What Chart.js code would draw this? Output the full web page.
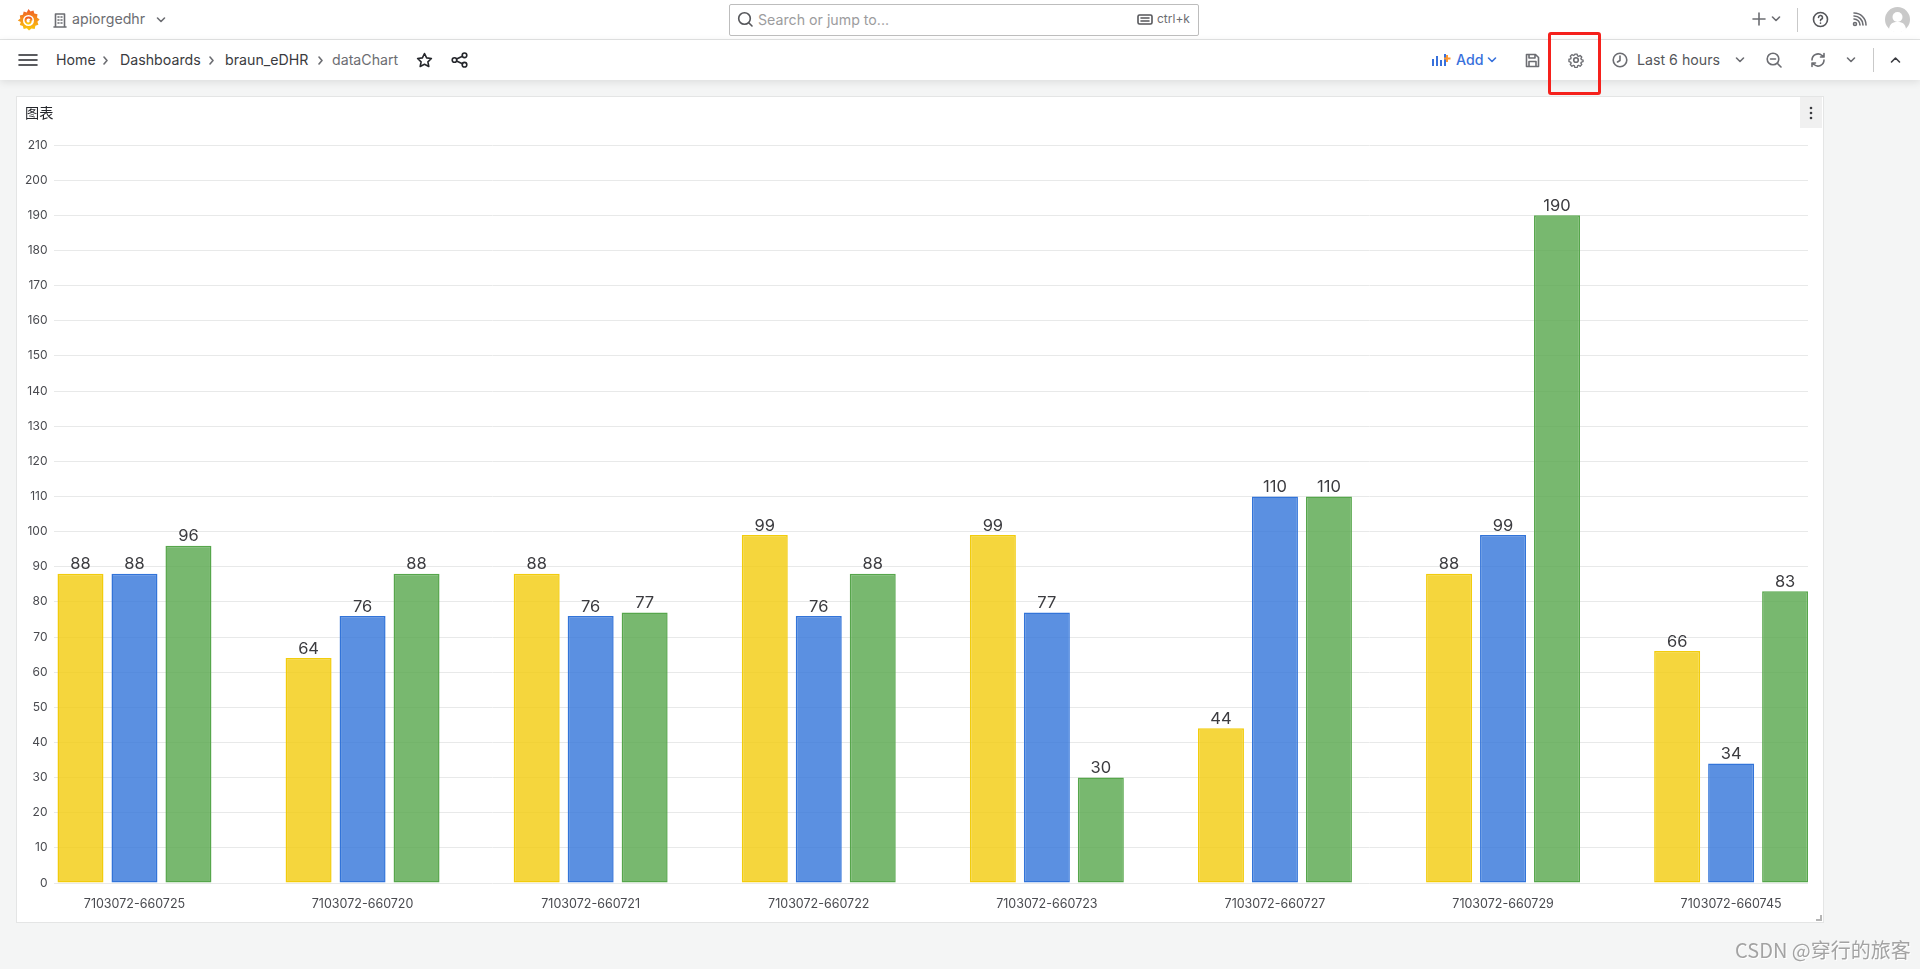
<!DOCTYPE html>
<html>
<head>
<meta charset="utf-8">
<title>dataChart</title>
<script src="https://cdn.jsdelivr.net/npm/chart.js@4.4.1/dist/chart.umd.min.js"></script>
<style>
    html, body { margin: 0; padding: 0; width: 1920px; height: 969px; overflow: hidden; background: #f4f5f5; font-family: Inter, sans-serif; }
    .abs { position: absolute; }
    .bar { position: absolute; left: 0; width: 1920px; background: #fff; }
    .txt { position: absolute; font-size: 14.2px; line-height: 20px; white-space: nowrap; color: #3a3b40; }
    .ico { position: absolute; fill: none; stroke: #3a3b40; stroke-width: 1.6; stroke-linecap: round; stroke-linejoin: round; }
    .gray { stroke: #6c6d72; }
    #panel { position: absolute; left: 16px; top: 96px; width: 1806px; height: 825px; background: #fff; border: 1px solid #e4e5e5; }
    #chart { position: absolute; left: 16px; top: 96px; }
    #redbox { position: absolute; left: 1548px; top: 32px; width: 47px; height: 57px; border: 3px solid #f5211c; border-radius: 3px; }
</style>
</head>
<body>
<div class="bar" style="top:0;height:39px;border-bottom:1px solid #e4e5e5"></div>
<div class="bar" style="top:40px;height:40px;box-shadow:0 2px 8px rgba(0,0,0,.1)"></div>

<!-- logo -->
<svg class="abs" style="left:17px;top:8px" width="23" height="24" viewBox="0 0 23 24">
    <defs><linearGradient id="lg" x1="0" y1="1" x2="0" y2="0"><stop offset="0" stop-color="#fbca0a"/><stop offset="1" stop-color="#f05a28"/></linearGradient></defs>
    <path d="M11.5 1l2 2.6 3-1 .8 3 3.2.6-.5 3.2 2.6 2-2.2 2.4 1 3-3 .9-.7 3.200-3.200-.5-2.500 2-2.200-2.200-3.100.8-.9-3.100-3-.9 1-3L.8 12.600l2.500-2-.5-3.200 3.100-.7.8-3.100 3 1z" fill="url(#lg)"/>
    <circle cx="11.500" cy="12.500" r="5.500" fill="#fff"/>
    <path d="M14.500 12.500a3 3 0 1 0-3 3 2.200 2.200 0 0 0 1.500-3.800" fill="none" stroke="url(#lg)" stroke-width="2"/>
</svg>
<svg class="ico gray" style="left:53px;top:13px" width="14" height="15" viewBox="0 0 14 15" stroke-width="1.200"><path d="M1 14h12M2.500 14V1h9v13M5 4h1M8 4h1M5 7h1M8 7h1M5 10h1M8 10h1"/></svg>
<div class="txt" style="left:72px;top:9px;color:#6c6d72">apiorgedhr</div>
<svg class="ico gray" style="left:156px;top:16px" width="10" height="8" viewBox="0 0 10 8"><path d="M1.500 2l3.500 3.500L8.500 2"/></svg>

<!-- search -->
<div class="abs" style="left:729px;top:4px;width:468px;height:30px;border:1px solid #bdbdbd;border-radius:2px;background:#fff"></div>
<svg class="ico" style="left:737px;top:11px;stroke:#55565a" width="17" height="17" viewBox="0 0 17 17"><circle cx="7.500" cy="7.500" r="5.800"/><path d="M12 12l3 3"/></svg>
<div class="txt" style="left:758px;top:10px;color:#9c9c9e">Search or jump to...</div>
<svg class="ico" style="left:1137px;top:14px;stroke:#55565a" width="16" height="11" viewBox="0 0 16 11"><rect x="1" y="1" width="14" height="9" rx="1.500"/><path d="M4 4h8M4 7h8"/></svg>
<div class="txt" style="left:1157px;top:9px;font-size:12px;color:#6c6d72">ctrl+k</div>

<!-- top right -->
<svg class="ico gray" style="left:1752px;top:12px" width="14" height="14" viewBox="0 0 14 14" stroke-width="1.800"><path d="M7 1v12M1 7h12"/></svg>
<svg class="ico gray" style="left:1771px;top:15px" width="10" height="8" viewBox="0 0 10 8"><path d="M1.500 2l3.500 3.500L8.500 2"/></svg>
<div class="abs" style="left:1797px;top:8px;width:1px;height:24px;background:#c9c9c9"></div>
<svg class="ico" style="left:1812px;top:11px;stroke:#55565a" width="17" height="17" viewBox="0 0 17 17" stroke-width="1.400"><circle cx="8.500" cy="8.500" r="7"/><path d="M6.500 6.500a2 2 0 1 1 2.800 1.800c-.6.300-.8.700-.8 1.300M8.500 12v.2"/></svg>
<svg class="ico gray" style="left:1852px;top:12px" width="15" height="15" viewBox="0 0 15 15" stroke-width="1.200"><circle cx="3" cy="12" r="1.500"/><path d="M2 7a6 6 0 0 1 6 6M2 4a9 9 0 0 1 9 9M2 1a12 12 0 0 1 12 12"/></svg>
<svg class="abs" style="left:1885px;top:7px" width="25" height="25" viewBox="0 0 25 25"><circle cx="12.500" cy="12.500" r="12.500" fill="#c9c9c9"/><circle cx="12.500" cy="10" r="5" fill="#fff"/><path d="M4 22c1-6 4-7 8.500-7s7.500 1 8.500 7a12.500 12.500 0 0 1-17 0z" fill="#fff"/></svg>

<!-- breadcrumb row -->
<svg class="ico" style="left:18px;top:53px;stroke:#24262b" width="20" height="14" viewBox="0 0 20 14" stroke-width="2"><path d="M1 2h18M1 7h18M1 12h18"/></svg>
<div class="txt" style="left:56px;top:50px">Home</div>
<svg class="ico gray" style="left:102px;top:56px" width="7" height="9" viewBox="0 0 7 9" stroke-width="1.300"><path d="M2 1l3 3.500L2 8"/></svg>
<div class="txt" style="left:120px;top:50px">Dashboards</div>
<svg class="ico gray" style="left:208px;top:56px" width="7" height="9" viewBox="0 0 7 9" stroke-width="1.300"><path d="M2 1l3 3.500L2 8"/></svg>
<div class="txt" style="left:225px;top:50px">braun_eDHR</div>
<svg class="ico gray" style="left:317px;top:56px" width="7" height="9" viewBox="0 0 7 9" stroke-width="1.300"><path d="M2 1l3 3.500L2 8"/></svg>
<div class="txt" style="left:332px;top:50px;color:#6c6d72">dataChart</div>
<svg class="ico" style="left:416px;top:52px;stroke:#24262b" width="17" height="16" viewBox="0 0 17 16"><path d="M8.500 1.500l2.100 4.400 4.800.6-3.500 3.300.9 4.700-4.300-2.300-4.300 2.300.9-4.700L1.600 6.500l4.800-.6z"/></svg>
<svg class="ico" style="left:451px;top:52px;stroke:#24262b" width="17" height="16" viewBox="0 0 17 16"><circle cx="3.500" cy="8" r="2.300"/><circle cx="13.500" cy="3.300" r="2.300"/><circle cx="13.500" cy="12.700" r="2.300"/><path d="M5.500 7l6-2.800M5.500 9l6 2.800"/></svg>

<svg class="abs" style="left:1431px;top:53px" width="20" height="14" viewBox="0 0 20 14"><path d="M1 6h2v7H1zM5 3h2v10H5zM9 7h2v6H9zM13 1h2v12h-2z" fill="#3871dc"/><path d="M16 2v7M13 5.500h6.500" stroke="#ff9830" stroke-width="2"/></svg>
<div class="txt" style="left:1456px;top:50px;color:#3871dc;font-weight:500">Add</div>
<svg class="ico" style="left:1487px;top:56px;stroke:#3871dc" width="10" height="8" viewBox="0 0 10 8"><path d="M1.500 2l3.500 3.500L8.500 2"/></svg>
<svg class="ico gray" style="left:1525px;top:53px" width="15" height="15" viewBox="0 0 15 15" stroke-width="1.400"><path d="M1.500 1.500h9l3 3v9h-12zM4 1.500v3.500h6v-3.500M4 13.500v-5h7v5"/></svg>
<svg class="ico gray" style="left:1568px;top:52px" width="16" height="16" viewBox="0 0 16 16" stroke-width="1.200"><circle cx="8" cy="8" r="2.300"/><path d="M6.700 1h2.600l.5 2 1.300.6 1.800-1 1.900 1.900-1 1.800.6 1.300 2 .5v1.800l-2 .5-.6 1.300 1 1.800-1.900 1.900-1.800-1-1.300.6-.5 2H6.700l-.5-2-1.300-.6-1.800 1-1.900-1.900 1-1.800-.6-1.300-2-.5V7.100l2-.5.600-1.300-1-1.800 1.900-1.900 1.800 1 1.300-.6z" transform="translate(1.300 1.300) scale(.84)"/></svg>
<svg class="ico gray" style="left:1612px;top:52px" width="16" height="16" viewBox="0 0 16 16" stroke-width="1.400"><circle cx="8" cy="8" r="6.800"/><path d="M8 4v4.500L5.500 10"/></svg>
<div class="txt" style="left:1637px;top:50px;color:#55565a">Last 6 hours</div>
<svg class="ico gray" style="left:1735px;top:56px" width="10" height="8" viewBox="0 0 10 8"><path d="M1.500 2l3.500 3.500L8.500 2"/></svg>
<svg class="ico gray" style="left:1766px;top:52px" width="16" height="16" viewBox="0 0 16 16" stroke-width="1.400"><circle cx="7" cy="7" r="5.800"/><path d="M4.500 7h5M11.500 11.500l3.500 3.500"/></svg>
<svg class="ico gray" style="left:1810px;top:52px" width="16" height="16" viewBox="0 0 16 16" stroke-width="1.400"><path d="M2 8a6 6 0 0 1 10-4.500L14 5M14 8a6 6 0 0 1-10 4.500L2 11M14 1.500V5h-3.500M2 14.500V11h3.500"/></svg>
<svg class="ico gray" style="left:1846px;top:56px" width="10" height="8" viewBox="0 0 10 8"><path d="M1.500 2l3.500 3.500L8.500 2"/></svg>
<div class="abs" style="left:1873px;top:48px;width:1px;height:24px;background:#c9c9c9"></div>
<svg class="ico" style="left:1890px;top:56px;stroke:#3a3b40" width="11" height="8" viewBox="0 0 11 8" stroke-width="1.800"><path d="M1.500 6l4-4 4 4"/></svg>

<div id="redbox"></div>

<!-- panel -->
<div id="panel"></div>
<canvas id="chart" width="1808" height="827"></canvas>
<div class="txt" style="left:25px;top:102px;font-family:'Noto Sans CJK SC';color:#24262b">图表</div>
<div class="abs" style="left:1800px;top:97px;width:22px;height:31px;background:#f0f0f0"></div>
<svg class="abs" style="left:1809px;top:106px" width="4" height="14" viewBox="0 0 4 14"><circle cx="2" cy="2" r="1.300" fill="#3a3b40"/><circle cx="2" cy="7" r="1.300" fill="#3a3b40"/><circle cx="2" cy="12" r="1.300" fill="#3a3b40"/></svg>
<svg class="abs" style="left:1816px;top:915px" width="6" height="6" viewBox="0 0 6 6"><path d="M0 4h4V0h2v6H0z" fill="#b5b5b5"/></svg>
<div class="txt" style="left:1735px;top:937px;font-family:'Noto Sans CJK SC';font-size:20px;line-height:26px;color:#a3a3a3;text-shadow:1px 1px 0 #fff">CSDN @穿行的旅客</div>

<script>
const categories = ['7103072-660725', '7103072-660720', '7103072-660721', '7103072-660722', '7103072-660723', '7103072-660727', '7103072-660729', '7103072-660745'];
const yellowValues = [88, 64, 88, 99, 99, 44, 88, 66];
const blueValues = [88, 76, 76, 76, 77, 110, 99, 34];
const greenValues = [96, 88, 77, 88, 30, 110, 190, 83];

// x is a linear axis so the groups can sit off-centre like in the panel
const toPoints = (values) => values.map((v, i) => ({ x: i, y: v }));

const barLabels = {
    id: 'barLabels',
    afterDatasetsDraw(chart) {
        const ctx = chart.ctx;
        ctx.save();
        ctx.font = '16.5px Inter';
        ctx.fillStyle = '#3c3c40';
        ctx.textAlign = 'center';
        ctx.textBaseline = 'bottom';
        chart.data.datasets.forEach((ds, d) => {
            chart.getDatasetMeta(d).data.forEach((bar, i) => {
                ctx.fillText(ds.data[i].y, bar.x, bar.y - 1);
            });
        });
        ctx.restore();
    }
};

new Chart(document.getElementById('chart'), {
    type: 'bar',
    data: {
        datasets: [
            { data: toPoints(yellowValues), backgroundColor: 'rgba(242,204,12,0.8)', borderColor: '#F2CC0C', borderWidth: 1.5, borderSkipped: false },
            { data: toPoints(blueValues), backgroundColor: 'rgba(50,116,217,0.8)', borderColor: '#3274D9', borderWidth: 1.5, borderSkipped: false },
            { data: toPoints(greenValues), backgroundColor: 'rgba(86,166,75,0.8)', borderColor: '#56A64B', borderWidth: 1.5, borderSkipped: false }
        ]
    },
    options: {
        responsive: false,
        animation: false,
        devicePixelRatio: 1,
        categoryPercentage: 0.71,
        barPercentage: 0.852,
        layout: { padding: { top: 49, right: 16, left: 0, bottom: 0 } },
        plugins: { legend: { display: false }, tooltip: { enabled: false } },
        scales: {
            x: {
                type: 'linear',
                offset: false,
                min: -0.355,
                max: 7.337,
                afterFit: (scale) => { scale.height = 40; },
                grid: { display: false },
                border: { display: false },
                ticks: {
                    stepSize: 1,
                    includeBounds: false,
                    autoSkip: false,
                    maxRotation: 0,
                    padding: 6,
                    color: '#4a4b50',
                    font: { family: 'Inter', size: 12.5 },
                    callback: (value) => categories[value]
                }
            },
            y: {
                min: 0,
                max: 210,
                afterFit: (scale) => { scale.width = 37.5; },
                grid: { color: '#e8e9e9', drawTicks: false },
                border: { display: false },
                ticks: {
                    stepSize: 10,
                    padding: 6,
                    color: '#4a4b50',
                    font: { family: 'Inter', size: 12 }
                }
            }
        }
    },
    plugins: [barLabels]
});
</script>
</body>
</html>
